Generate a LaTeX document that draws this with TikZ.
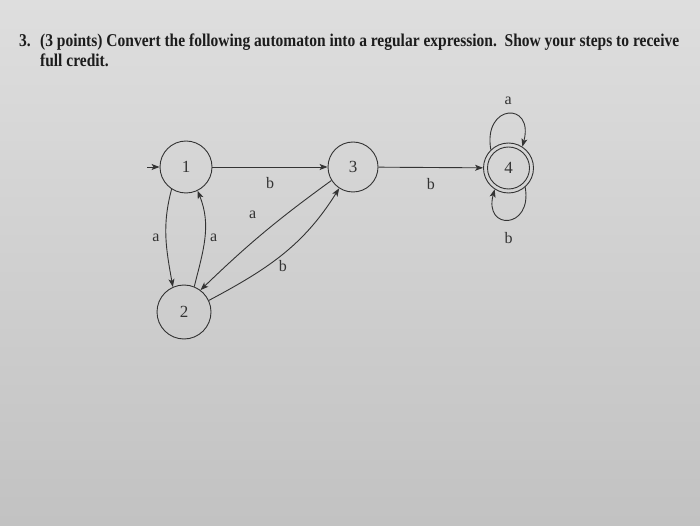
\documentclass[tikz,border=0pt]{standalone}
\usepackage{fontspec}
\usepackage{graphicx}
\setmainfont{Liberation Serif}
\usetikzlibrary{arrows.meta}
\definecolor{ink}{HTML}{333333}
\definecolor{titleink}{HTML}{1C1C1C}
\definecolor{paperTop}{HTML}{DEDEDE}
\definecolor{paperBot}{HTML}{C2C2C2}
\begin{document}
\begin{tikzpicture}[x=1pt,y=1pt,
  state/.style={circle,draw=ink,line width=0.9pt,inner sep=0pt,font=\fontsize{17}{17}\selectfont,text=ink},
  edge/.style={draw=ink,line width=0.9pt,-{Stealth[length=8pt,width=6pt,inset=2pt]}},
  lbl/.style={font=\fontsize{16}{16}\selectfont,text=ink,inner sep=0pt}]
\useasboundingbox (0,0) rectangle (700,525);
\shade[top color=paperTop,bottom color=paperBot] (0,0) rectangle (700,525);
\node[anchor=base west,inner sep=0pt,text=titleink] (title) at (19,478)
  {\resizebox{660pt}{\height}{\fontsize{18}{20}\selectfont\bfseries
   \begin{tabular}[t]{@{}l@{\hspace{0.6em}}l@{}}3. & (3 points) Convert the following automaton into a regular expression.\ \ Show your steps to receive\\
   & full credit.\end{tabular}}};
\node[state,minimum size=52pt] (n1) at (186,358) {1};
\node[state,minimum size=54pt] (n2) at (184,213) {2};
\node[state,minimum size=50pt] (n3) at (353,358) {3};
\node[state,minimum size=50pt] (n4) at (508.5,357) {4};
\draw[draw=ink,line width=0.9pt] (n4.center) circle[radius=21pt];
\coordinate (start) at (147,358);
\draw[edge] (start) -- (n1.west);
\draw[edge] (n1) -- node[lbl,below=10pt] {b} (n3);
\draw[edge] (n3) -- node[lbl,below=10pt] {b} (n4);
\draw[edge] (n1.237) to[out=255,in=100] node[lbl,left=6pt] {a} (n2.114);
\draw[edge] (n2.68) to[out=76,in=292] node[lbl,right=5pt] {a} (n1.296);
\draw[edge] (n3.212) to[bend right=4] node[lbl,xshift=-11pt,yshift=18pt] {a} (n2.53);
\draw[edge] (n2.25) to[out=28,in=238] node[lbl,below=6pt] {b} (n3.237);
\draw[edge] (n4.134) .. controls +(100:47) and +(75:47) .. node[lbl,above=9pt] {a} (n4.57);
\draw[edge] (n4.-49) .. controls +(-80:43) and +(-105:43) .. node[lbl,below=12pt] {b} (n4.237);
\end{tikzpicture}
\end{document}
